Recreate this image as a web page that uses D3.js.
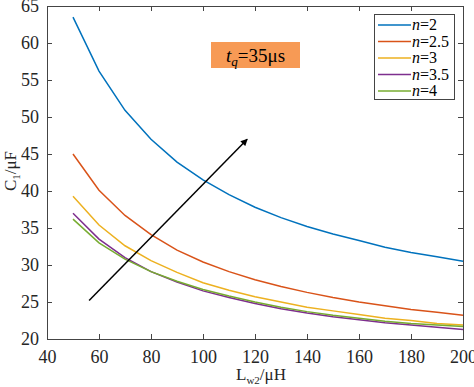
<!DOCTYPE html>
<html>
  <head>
    <meta charset="utf-8">
    <title>C1 vs Lw2</title>
    <script src="https://cdn.jsdelivr.net/npm/d3@7"></script>
    <style>
      body { margin: 0; background: #fff; }
      .axis path, .axis line {
        fill: none;
        stroke: #444;
        stroke-width: 1;
        shape-rendering: crispEdges;
      }
      .line { fill: none; stroke-width: 1.5; }
    </style>
  </head>
  <body>
    <script>

      // data (L in uH, C1 in uF)
      var xValues = [50, 60, 70, 80, 90, 100, 110, 120, 130, 140, 150, 160, 170, 180, 190, 200];
      var n2   = [63.5, 56.2, 50.9, 47.0, 43.9, 41.5, 39.5, 37.8, 36.4, 35.2, 34.2, 33.3, 32.4, 31.7, 31.1, 30.5];
      var n25  = [45.0, 40.1, 36.7, 34.1, 32.0, 30.4, 29.1, 28.0, 27.1, 26.3, 25.6, 25.0, 24.5, 24.0, 23.6, 23.2];
      var n3   = [39.3, 35.4, 32.6, 30.6, 29.0, 27.6, 26.6, 25.7, 25.0, 24.3, 23.8, 23.3, 22.8, 22.5, 22.1, 21.9];
      var n35  = [37.0, 33.5, 31.0, 29.1, 27.7, 26.5, 25.6, 24.8, 24.1, 23.5, 23.0, 22.6, 22.2, 21.9, 21.6, 21.3];
      var n4   = [36.2, 33.0, 30.8, 29.1, 27.8, 26.7, 25.8, 25.0, 24.3, 23.7, 23.2, 22.8, 22.4, 22.1, 21.9, 21.7];

      var seriesNames  = ["2", "2.5", "3", "3.5", "4"];
      var seriesValues = [n2, n25, n3, n35, n4];
      var colors = ["#0072BD", "#D95319", "#EDB120", "#7E2F8E", "#77AC30"];

      var xTicks = [40, 60, 80, 100, 120, 140, 160, 180, 200];
      var yTicks = [20, 25, 30, 35, 40, 45, 50, 55, 60, 65];

      // arrow annotation, data units
      var arrowStart = [56.2, 25.2];
      var arrowEnd   = [117, 47];

      var serif = "Liberation Serif";

      var outerWidth = 474;
      var outerHeight = 387;
      var margin = { left: 47, top: 6, right: 11, bottom: 48 };
      var innerWidth  = outerWidth  - margin.left - margin.right;
      var innerHeight = outerHeight - margin.top  - margin.bottom;

      var svg = d3.select("body").append("svg")
        .attr("width",  outerWidth)
        .attr("height", outerHeight);

      svg.append("defs").append("marker")
        .attr("id", "head")
        .attr("viewBox", "0 0 10 10")
        .attr("refX", 9).attr("refY", 5)
        .attr("markerWidth", 8).attr("markerHeight", 7)
        .attr("markerUnits", "userSpaceOnUse")
        .attr("orient", "auto")
        .append("path")
        .attr("d", "M0,0 L10,5 L0,10 z")
        .attr("fill", "#000");

      var g = svg.append("g")
        .attr("transform", "translate(" + margin.left + "," + margin.top + ")");

      var xScale = d3.scaleLinear().domain([40, 200]).range([0, innerWidth]);
      var yScale = d3.scaleLinear().domain([20, 65]).range([innerHeight, 0]);

      var xAxisG = g.append("g").attr("class", "x axis")
        .attr("transform", "translate(0," + innerHeight + ")")
        .call(d3.axisBottom(xScale).tickValues(xTicks).tickSize(-5).tickPadding(11).tickSizeOuter(0));
      g.append("g").attr("class", "x axis")
        .call(d3.axisTop(xScale).tickValues(xTicks).tickSize(-5).tickFormat("").tickSizeOuter(0));
      var yAxisG = g.append("g").attr("class", "y axis")
        .call(d3.axisLeft(yScale).tickValues(yTicks).tickSize(-5).tickPadding(8).tickSizeOuter(0));
      g.append("g").attr("class", "y axis")
        .attr("transform", "translate(" + innerWidth + ",0)")
        .call(d3.axisRight(yScale).tickValues(yTicks).tickSize(-5).tickFormat("").tickSizeOuter(0));

      [xAxisG, yAxisG].forEach(function(a) {
        a.attr("font-family", serif).attr("font-size", 18);
        a.selectAll("text")
          .attr("font-family", serif)
          .attr("font-size", 18)
          .attr("fill", "#262626");
      });

      var line = d3.line()
        .x(function(d) { return xScale(d[0]); })
        .y(function(d) { return yScale(d[1]); });

      seriesValues.forEach(function(vals, i) {
        g.append("path")
          .attr("class", "line")
          .attr("stroke", colors[i])
          .attr("d", line(xValues.map(function(x, j) { return [x, vals[j]]; })));
      });

      // arrow
      g.append("line")
        .attr("x1", xScale(arrowStart[0])).attr("y1", yScale(arrowStart[1]))
        .attr("x2", xScale(arrowEnd[0])).attr("y2", yScale(arrowEnd[1]))
        .attr("stroke", "#000").attr("stroke-width", 1.5)
        .attr("marker-end", "url(#head)");

      // t_q box
      svg.append("rect")
        .attr("x", 211).attr("y", 42).attr("width", 89).attr("height", 26)
        .attr("fill", "#F79A55");
      var tq = svg.append("text")
        .attr("x", 255.5).attr("y", 62)
        .attr("text-anchor", "middle")
        .attr("font-family", serif)
        .attr("font-size", 19)
        .attr("fill", "#000");
      tq.append("tspan").attr("font-style", "italic").text("t");
      tq.append("tspan").attr("font-style", "italic").attr("font-size", 13).attr("dy", 4).text("q");
      tq.append("tspan").attr("dy", -4).text("=35μs");

      // legend
      var legend = svg.append("g");
      legend.append("rect")
        .attr("x", 374.5).attr("y", 14.5).attr("width", 80).attr("height", 85)
        .attr("fill", "#fff").attr("stroke", "#444");
      seriesNames.forEach(function(name, i) {
        var y = 25 + i * 16.5;
        legend.append("line")
          .attr("x1", 378).attr("x2", 411).attr("y1", y).attr("y2", y)
          .attr("stroke", colors[i]).attr("stroke-width", 1.5);
        var t = legend.append("text").attr("x", 412).attr("y", y + 5)
          .attr("font-family", serif).attr("font-size", 16);
        t.append("tspan").attr("font-style", "italic").text("n");
        t.append("tspan").text("=" + name);
      });

      // axis labels
      var yl = svg.append("text")
        .attr("transform", "translate(16,171) rotate(-90)")
        .attr("text-anchor", "middle")
        .attr("font-family", serif).attr("font-size", 17).attr("fill", "#262626");
      yl.append("tspan").text("C");
      yl.append("tspan").attr("dy", 4).attr("font-size", 11).text("1");
      yl.append("tspan").attr("dy", -4).text("/μF");

      var xl = svg.append("text")
        .attr("x", 261).attr("y", 380)
        .attr("text-anchor", "middle")
        .attr("font-family", serif).attr("font-size", 17).attr("fill", "#262626");
      xl.append("tspan").text("L");
      xl.append("tspan").attr("dy", 4).attr("font-size", 11).text("w2");
      xl.append("tspan").attr("dy", -4).text("/μH");

    </script>
  </body>
</html>
